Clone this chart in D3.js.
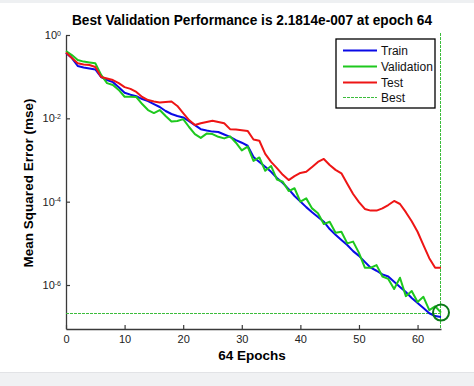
<!DOCTYPE html>
<html>
<head>
<meta charset="utf-8">
<script src="https://cdn.jsdelivr.net/npm/d3@7"></script>
<style>
  body { margin: 0; background: #fff; }
  svg { display: block; font-family: "Liberation Sans", Arial, sans-serif; }
</style>
</head>
<body>
<svg id="chart" width="474" height="386"></svg>
<script>
// performance per epoch (0..64)
const trainPerf = [0.37, 0.28, 0.18, 0.166, 0.157, 0.149, 0.098, 0.083, 0.074, 0.056,
  0.041, 0.037, 0.034, 0.029, 0.026, 0.022, 0.0187, 0.015, 0.0127, 0.0114,
  0.0105, 0.0086, 0.0069, 0.0055, 0.0051, 0.0048, 0.0047, 0.0041, 0.0036, 0.0030,
  0.0026, 0.0022, 0.00118, 0.0009, 0.00069, 0.00052, 0.00037, 0.00028, 0.0002, 0.000137,
  1.01e-4, 7.4e-5, 5.6e-5, 4.3e-5, 3.3e-5, 2.2e-5, 1.6e-5, 1.2e-5, 9.1e-6, 6.5e-6,
  5.0e-6, 3.6e-6, 2.6e-6, 2.2e-6, 1.8e-6, 1.6e-6, 1.2e-6, 9.0e-7, 6.8e-7, 4.9e-7,
  3.7e-7, 2.8e-7, 2.1e-7, 1.8e-7, 1.7e-7];
const valPerf = [0.41, 0.33, 0.25, 0.23, 0.22, 0.21, 0.11, 0.07, 0.063, 0.048,
  0.033, 0.033, 0.0325, 0.022, 0.0158, 0.0134, 0.0158, 0.0114, 0.0084, 0.0086,
  0.0096, 0.0062, 0.0042, 0.0034, 0.0043, 0.0042, 0.0036, 0.0033, 0.0037, 0.0026,
  0.0017, 0.0021, 0.00095, 0.00115, 0.00055, 0.00072, 0.00034, 0.0003, 0.00018, 0.00021,
  1.0e-4, 1.2e-4, 6.9e-5, 5.3e-5, 2.9e-5, 3.3e-5, 1.8e-5, 1.9e-5, 1.0e-5, 1.1e-5,
  5.9e-6, 2.6e-6, 2.6e-6, 3.0e-6, 1.6e-6, 1.4e-6, 8.0e-7, 1.5e-6, 5.4e-7, 7.2e-7,
  3.9e-7, 5.2e-7, 2.5e-7, 3.1e-7, 2.1814e-7];
const testPerf = [0.38, 0.28, 0.21, 0.196, 0.19, 0.17, 0.098, 0.09, 0.083, 0.07,
  0.056, 0.051, 0.043, 0.0325, 0.0275, 0.0254, 0.024, 0.0247, 0.0254, 0.0198,
  0.0134, 0.0091, 0.0069, 0.0076, 0.0082, 0.0088, 0.0082, 0.0076, 0.0055, 0.0054,
  0.0052, 0.005, 0.0031, 0.0029, 0.0014, 0.0009, 0.00064, 0.00044, 0.00033, 0.00041,
  0.00049, 0.00052, 0.00068, 0.0009, 0.00106, 0.00076, 0.00058, 0.00048, 0.00027, 0.000153,
  9.8e-5, 6.7e-5, 6.1e-5, 6.1e-5, 6.9e-5, 8.3e-5, 1.04e-4, 8.8e-5, 5.6e-5, 3.4e-5,
  1.9e-5, 9.1e-6, 4.4e-6, 2.6e-6, 2.6e-6];

const bestEpoch = 64;
const bestPerf = 2.1814e-7;

const xTicks = [0, 10, 20, 30, 40, 50, 60];
const yTicks = [1e-6, 1e-4, 1e-2, 1];
const yTickExps = ["-6", "-4", "-2", "0"];

const seriesNames = ["Train", "Validation", "Test", "Best"];
const seriesColors = ["#0a0ae6", "#1ec81e", "#ee1515", "#3cbc3c"];

const titleText = "Best Validation Performance is 2.1814e-007 at epoch 64";
const xLabel = "64 Epochs";
const yLabel = "Mean Squared Error  (mse)";

const margin = { top: 35, left: 66, right: 33, bottom: 57 };
const W = 474, H = 386;
const width = W - margin.left - margin.right;
const height = H - margin.top - margin.bottom;

const svg = d3.select("#chart");

// page strips around the figure
svg.append("rect").attr("x", 0).attr("y", 0).attr("width", W).attr("height", 3).style("fill", "#eef0f2");
svg.append("rect").attr("x", 0).attr("y", 373).attr("width", W).attr("height", 13).style("fill", "#f0f1f3");
svg.append("line").attr("x1", 0).attr("x2", W).attr("y1", 372.5).attr("y2", 372.5)
  .style("stroke", "#e2e3e6");

const g = svg.append("g").attr("transform", `translate(${margin.left}, ${margin.top})`);

const x = d3.scaleLinear().domain([0, 64]).range([0, width]);
const y = d3.scaleLog().domain([8.8e-8, 1]).range([height, 0]);

// axes, ticks inside like matlab
const xAxis = g.append("g")
  .attr("transform", `translate(0, ${height})`)
  .call(d3.axisBottom(x).tickValues(xTicks).tickSize(-4).tickPadding(6).tickSizeOuter(0));

const yAxis = g.append("g")
  .call(d3.axisLeft(y).tickValues(yTicks).tickSize(-4).tickPadding(5).tickSizeOuter(0).tickFormat(() => ""));

[xAxis, yAxis].forEach(a => {
  a.select(".domain").style("stroke", "#3a3a3a").style("stroke-width", 1.3);
  a.selectAll(".tick line").style("stroke", "#3a3a3a").style("stroke-width", 1.2);
  a.selectAll(".tick text").style("fill", "#222").style("font-size", "11px")
    .style("font-family", "'Liberation Sans', Arial, sans-serif");
});

yAxis.selectAll(".tick text").each(function (d, i) {
  const t = d3.select(this);
  t.text(null);
  t.append("tspan").text("10");
  t.append("tspan").attr("dy", "-0.5em").style("font-size", "7px").text(yTickExps[i]);
});

// best markers (snapped to half pixels so the dots stay crisp)
const bx = Math.round(x(bestEpoch)) - 0.5;
const by = Math.round(y(bestPerf)) + 0.5;
g.append("line")
  .attr("x1", 0).attr("x2", bx)
  .attr("y1", by).attr("y2", by)
  .style("stroke", seriesColors[3]).style("stroke-width", 1).style("stroke-dasharray", "3,1");
g.append("line")
  .attr("x1", bx).attr("x2", bx)
  .attr("y1", -2).attr("y2", height)
  .style("stroke", seriesColors[3]).style("stroke-width", 1).style("stroke-dasharray", "3,1");

const line = d3.line().x((d, i) => x(i)).y(d => y(d));

[trainPerf, valPerf, testPerf].forEach((s, i) => {
  g.append("path")
    .datum(s)
    .attr("d", line)
    .style("fill", "none")
    .style("stroke", seriesColors[i])
    .style("stroke-width", 2)
    .style("stroke-linejoin", "round");
});

g.append("circle")
  .attr("cx", x(bestEpoch)).attr("cy", y(bestPerf)).attr("r", 8)
  .style("fill", "none").style("stroke", "#0b7a18").style("stroke-width", 2);

// legend
const legend = svg.append("g").attr("transform", "translate(336, 39)");
legend.append("rect")
  .attr("x", 0).attr("y", 0).attr("width", 99).attr("height", 69)
  .style("fill", "#fff").style("stroke", "#000").style("stroke-width", 1.3);

seriesNames.forEach((name, i) => {
  const ly = Math.round(11 + i * 15.8) + 0.5;
  legend.append("line")
    .attr("x1", 7).attr("x2", 41).attr("y1", ly).attr("y2", ly)
    .style("stroke", seriesColors[i])
    .style("stroke-width", i === 3 ? 1 : 2)
    .style("stroke-dasharray", i === 3 ? "3,1" : null);
  legend.append("text")
    .attr("x", 45).attr("y", ly).attr("dy", "0.35em")
    .style("font-size", "12px").style("fill", "#111")
    .text(name);
});

// labels
svg.append("text")
  .attr("x", 252).attr("y", 25)
  .attr("text-anchor", "middle")
  .attr("textLength", 360).attr("lengthAdjust", "spacingAndGlyphs")
  .style("font-size", "14px").style("font-weight", "bold")
  .text(titleText);

svg.append("text")
  .attr("x", 252).attr("y", 360)
  .attr("text-anchor", "middle")
  .style("font-size", "13.5px").style("font-weight", "bold")
  .text(xLabel);

svg.append("text")
  .attr("transform", "translate(33, 183) rotate(-90)")
  .attr("text-anchor", "middle")
  .style("font-size", "13.5px").style("font-weight", "bold")
  .text(yLabel);
</script>
</body>
</html>
